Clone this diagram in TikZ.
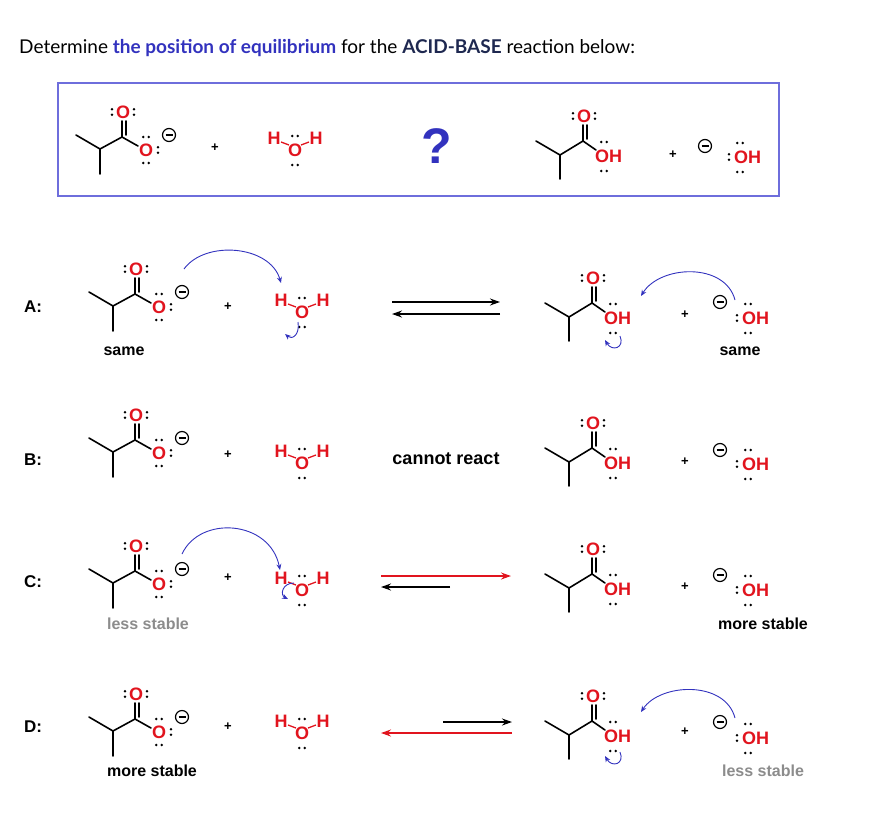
\documentclass[tikz,border=0pt]{standalone}
\usepackage{fontspec}
\setmainfont{Lato}
\newfontfamily\chemfont{Liberation Sans}
\usetikzlibrary{arrows.meta}
\definecolor{atomred}{RGB}{225,20,30}
\definecolor{eqblue}{RGB}{50,50,190}
\definecolor{boxblue}{RGB}{110,110,220}
\definecolor{grayt}{RGB}{140,140,140}
\tikzset{
  bond/.style={line width=1.6pt,line cap=round},
  atom/.style={text=atomred,font=\chemfont\bfseries\fontsize{18}{18}\selectfont,inner sep=0pt},
  lbl/.style={font=\chemfont\bfseries\fontsize{17}{17}\selectfont,inner sep=0pt},
  plus/.style={font=\chemfont\bfseries\fontsize{13}{13}\selectfont,inner sep=0pt},
  minus/.style={circle,draw,line width=1.2pt,minimum size=13pt,inner sep=0pt},
  curly/.style={eqblue,line width=0.9pt,-{Stealth[length=6pt,width=5pt]}},
  eqarrow/.style={line width=1.5pt,-{Stealth[length=10pt,width=7pt]}}
}
\newcommand\hd[2]{\fill (#1-2.7,#2) circle (1.4) (#1+2.7,#2) circle (1.4);}
\newcommand\vd[2]{\fill (#1,#2-2.7) circle (1.4) (#1,#2+2.7) circle (1.4);}
% carboxylate, origin at branch carbon
\newcommand\carbox[3]{\begin{scope}[shift={(#2,#3)}]
 \draw[bond] (-24,-14) -- (0,0) -- (0,25) (0,0) -- (22,-12) -- (38,-3);
 \draw[bond] (22,-12) -- (22,-28) (26,-14) -- (26,-28);
 \node[atom] (#1o1) at (23,-37) {O};
 \vd{12}{-37} \vd{34}{-37}
 \node[atom] (#1o2) at (46,1) {O};
 \hd{46}{-12} \vd{58}{1} \hd{46}{14}
 \node[minus] (#1m) at (69,-14) {};
 \draw[line width=1.2pt] (65.5,-14) -- (72.5,-14);
\end{scope}}
% carboxylic acid, origin at branch carbon
\newcommand\acid[3]{\begin{scope}[shift={(#2,#3)}]
 \draw[bond] (-24,-14) -- (0,0) -- (0,24) (0,0) -- (23,-14) -- (36,-5);
 \draw[bond] (23,-14) -- (23,-30) (27,-16) -- (27,-30);
 \node[atom] (#1o1) at (24,-39) {O};
 \vd{13}{-39} \vd{35}{-39}
 \node[atom,anchor=west] (#1oh) at (35,1) {OH};
 \hd{44}{-13} \hd{44}{16}
\end{scope}}
% water, origin at O
\newcommand\water[3]{\begin{scope}[shift={(#2,#3)}]
 \node[atom] (#1o) at (0,0) {O};
 \node[atom] (#1h1) at (-21,-12) {H};
 \node[atom] (#1h2) at (21,-12) {H};
 \draw[atomred,line width=1.3pt] (-14,-8) -- (-6,-5) (14,-8) -- (6,-5);
 \hd{0}{-14} \hd{0}{15}
\end{scope}}
% hydroxide, origin at O
\newcommand\hydrox[5]{\begin{scope}[shift={(#2,#3)}]
 \node[atom,anchor=west] (#1oh) at (-6,0) {OH};
 \vd{-11}{0} \hd{0}{-14} \hd{0}{15}
 \node[minus] (#1m) at (#4,#5) {};
 \draw[line width=1.2pt] (#4-3.5,#5) -- (#4+3.5,#5);
\end{scope}}
\begin{document}
\begin{tikzpicture}[x=1pt,y=-1pt]
\useasboundingbox (0,0) rectangle (891,820);
\node[anchor=west,font=\fontsize{19}{19}\selectfont,inner sep=0pt] (title) at (19,48)
 {Determine \textbf{\color{eqblue}the position of equilibrium} for the \textbf{\color[RGB]{30,40,80}ACID-BASE} reaction below:};
\draw[boxblue,line width=1.2pt] (58,83) rectangle (779,196);
% top row
\carbox{t}{100}{149}
\node[plus] (tp1) at (215,148) {+};
\water{tw}{295}{150}
\node[text=eqblue,font=\chemfont\bfseries\fontsize{50}{50}\selectfont,inner sep=0pt] (q) at (437,146) {?};
\acid{ta}{560}{155}
\node[plus] (tp2) at (673,155) {+};
\hydrox{th}{740}{157}{-35}{-11}
% row A
\node[lbl] (la) at (33,307) {A:};
\carbox{a}{113}{306}
\node[plus] (ap1) at (228,307) {+};
\water{aw}{302}{312}
\acid{aa}{569}{317}
\node[plus] (ap2) at (685,315) {+};
\hydrox{ah}{748}{318}{-28}{-16}
\node[lbl,font=\chemfont\bfseries\fontsize{16}{16}\selectfont] (sa1) at (124,351) {same};
\node[lbl,font=\chemfont\bfseries\fontsize{16}{16}\selectfont] (sa2) at (740,351) {same};
\coordinate (a1s) at (392,302); \coordinate (a1e) at (500,302);
\coordinate (a2s) at (500,314); \coordinate (a2e) at (392,314);
\draw[eqarrow] (a1s) -- (a1e);
\draw[eqarrow] (a2s) -- (a2e);
\draw[curly] (184,269) .. controls (205,240) and (270,245) .. (281,283);
\draw[curly] (298,322) .. controls (300,335) and (292,340) .. (285,334);
\draw[curly] (735,300) .. controls (725,262) and (660,265) .. (641,296);
\draw[curly] (620,336) .. controls (625,348) and (612,352) .. (605,340);
% row B
\node[lbl] (lb) at (33,460) {B:};
\carbox{b}{113}{452}
\node[plus] (bp1) at (228,455) {+};
\water{bw}{302}{463}
\node[lbl,font=\chemfont\bfseries\fontsize{18}{18}\selectfont] (cr) at (446,459) {cannot react};
\acid{ba}{569}{462}
\node[plus] (bp2) at (685,462) {+};
\hydrox{bh}{748}{464}{-28}{-14}
% row C
\node[lbl] (lc) at (33,582) {C:};
\carbox{c}{113}{583}
\node[plus] (cp1) at (228,578) {+};
\water{cw}{302}{590}
\acid{ca}{569}{588}
\node[plus] (cp2) at (685,587) {+};
\hydrox{ch}{748}{590}{-28}{-15}
\node[lbl,text=grayt,font=\chemfont\bfseries\fontsize{16}{16}\selectfont] (ls1) at (148,624) {less stable};
\node[lbl,font=\chemfont\bfseries\fontsize{16}{16}\selectfont] (ms1) at (763,624) {more stable};
\coordinate (c1s) at (381,576); \coordinate (c1e) at (511,576);
\coordinate (c2s) at (450,587); \coordinate (c2e) at (381,587);
\draw[eqarrow,atomred] (c1s) -- (c1e);
\draw[eqarrow] (c2s) -- (c2e);
\draw[curly] (182,554) .. controls (200,515) and (270,520) .. (280,570);
\draw[curly] (294,583) .. controls (282,583) and (280,595) .. (288,599);
% row D
\node[lbl] (ld) at (33,727) {D:};
\carbox{d}{113}{731}
\node[plus] (dp1) at (228,727) {+};
\water{dw}{302}{733}
\acid{da}{569}{735}
\node[plus] (dp2) at (685,732) {+};
\hydrox{dh}{748}{738}{-28}{-16}
\node[lbl,font=\chemfont\bfseries\fontsize{16}{16}\selectfont] (ms2) at (152,771) {more stable};
\node[lbl,text=grayt,font=\chemfont\bfseries\fontsize{16}{16}\selectfont] (ls2) at (763,771) {less stable};
\coordinate (d1s) at (443,722); \coordinate (d1e) at (512,722);
\coordinate (d2s) at (512,733); \coordinate (d2e) at (381,733);
\draw[eqarrow] (d1s) -- (d1e);
\draw[eqarrow,atomred] (d2s) -- (d2e);
\draw[curly] (735,718) .. controls (725,680) and (660,683) .. (641,712);
\draw[curly] (620,752) .. controls (625,764) and (612,768) .. (605,756);
\end{tikzpicture}
\end{document}
